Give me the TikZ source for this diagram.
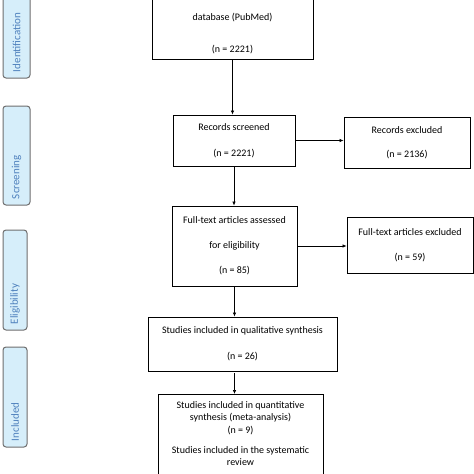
\documentclass[tikz,border=0pt]{standalone}
\usepackage{fontspec}
\setmainfont{Carlito}
\usetikzlibrary{arrows.meta, positioning, calc}
\definecolor{pstage}{HTML}{D6EEFA}
\definecolor{pstagetext}{HTML}{4F81BD}
\definecolor{pstageedge}{HTML}{6E6E6E}

\begin{document}
\begin{tikzpicture}[x=1pt, y=-1pt,
  box/.style={draw=black, line width=0.8pt, fill=white, align=center,
    font=\fontsize{10}{12.5}\selectfont, inner sep=0pt},
  boxtext/.style={align=center, font=\fontsize{10}{12.5}\selectfont, inner sep=0pt},
  stage/.style={draw=pstageedge, line width=1pt, fill=pstage, rounded corners=3pt,
    rotate=90, align=left, font=\fontsize{11}{13}\selectfont, text=pstagetext,
    inner xsep=6pt, inner ysep=0pt},
  arr/.style={-{Latex[length=4pt, width=3.5pt]}, line width=0.7pt}]

  \useasboundingbox (0,0) rectangle (474,474);

  %% stage labels on the left
  \node[stage, text width=86pt, minimum height=27pt] (sident) at (16.5,29) {Identification};
  \node[stage, text width=87pt, minimum height=27pt] (sscreen) at (16.5,155.5) {Screening};
  \node[stage, text width=88pt, minimum height=24pt] (selig) at (15,280) {Eligibility};
  \node[stage, text width=88pt, minimum height=24pt] (sincl) at (15,397) {Included};

  %% identification (top cut off)
  \node[box, minimum width=161pt, minimum height=110pt, anchor=south] (dbbox) at (232.5,60) {};
  \node[boxtext] (dbtext) at (232.5,34) {database (PubMed)\\[19.5pt](n = 2221)};

  %% screening
  \node[box, minimum width=122pt, minimum height=51pt] (screen) at (234,140.5)
    {Records screened\\[14pt](n = 2221)};
  \node[box, minimum width=126pt, minimum height=51pt] (excl) at (407,142.5)
    {Records excluded\\[12pt](n = 2136)};

  %% eligibility
  \node[box, minimum width=125pt, minimum height=80pt] (fulltext) at (234.5,246)
    {Full-text articles assessed\\[12pt]for eligibility\\[13pt](n = 85)};
  \node[box, minimum width=126pt, minimum height=56pt] (ftexcl) at (410,245)
    {Full-text articles excluded\\[13pt](n = 59)};

  %% included
  \node[box, minimum width=189pt, minimum height=54pt] (qual) at (242.5,344)
    {Studies included in qualitative synthesis\\[13.5pt](n = 26)};
  \node[box, minimum width=165pt, minimum height=96pt, anchor=north] (quant) at (240.5,394) {};
  \node[boxtext, anchor=north] (quanttext) at (240.5,401)
    {Studies included in quantitative\\synthesis (meta-analysis)\\(n = 9)\\[7.5pt]%
     Studies included in the systematic\\review};

  %% arrows
  \draw[arr] (dbbox.south) -- (dbbox.south |- screen.north);
  \draw[arr] (screen.east) -- (screen.east -| excl.west);
  \draw[arr] (screen.south) -- (screen.south |- fulltext.north);
  \draw[arr] (fulltext.east) -- (fulltext.east -| ftexcl.west);
  \draw[arr] (fulltext.south) -- (fulltext.south |- qual.north);
  \draw[arr] ([yshift=-2pt]fulltext.south |- qual.south) -- (fulltext.south |- quant.north);

\end{tikzpicture}
\end{document}
